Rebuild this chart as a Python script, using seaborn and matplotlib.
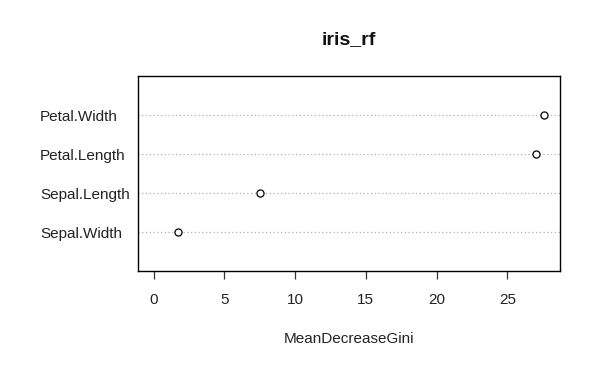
import matplotlib
matplotlib.use("Agg")
import matplotlib.pyplot as plt
import seaborn as sns
import pandas as pd

# variable importance from the random forest
variables = ["Sepal.Width", "Sepal.Length", "Petal.Length", "Petal.Width"]
mean_decrease_gini = [1.72, 7.50, 27.00, 27.62]
x_ticks = [0, 5, 10, 15, 20, 25]

df = pd.DataFrame({"variable": variables, "gini": mean_decrease_gini})
df["row"] = range(1, len(df) + 1)

sns.set_style("white")
plt.rcParams["font.family"] = ["Liberation Sans", "DejaVu Sans"]

fig = plt.figure(figsize=(6, 3.67), dpi=100)
ax = fig.add_axes([0.23, 0.2616, 0.7033, 0.5313])

# dotted guide lines, like R's dotchart
for r in df["row"]:
    ax.axhline(r, color="#b0b0b0", linestyle=(0, (1, 2)), linewidth=0.9, zorder=1)

sns.scatterplot(data=df, x="gini", y="row", ax=ax, marker="o", s=26,
                facecolor="white", edgecolor="black", linewidth=0.9, zorder=3,
                legend=False)

xmax = max(mean_decrease_gini)
pad = 0.04 * xmax
ax.set_xlim(-pad, xmax + pad)
ax.set_ylim(0, len(df) + 1)

ax.set_xticks(x_ticks)
ax.set_xticklabels([str(t) for t in x_ticks], fontsize=11, color="#222222")
ax.tick_params(axis="x", direction="out", length=6, width=0.9, pad=9.5,
               color="#333333", bottom=True)
ax.set_yticks([])

# row labels, left aligned in the margin
for r, name in zip(df["row"], df["variable"]):
    ax.text(-0.232, r - 0.04, name, transform=ax.get_yaxis_transform(),
            ha="left", va="center", fontsize=11, color="#222222")

for sp in ax.spines.values():
    sp.set_visible(True)
    sp.set_color("black")
    sp.set_linewidth(1.0)

ax.set_xlabel("MeanDecreaseGini", fontsize=11, color="#222222")
ax.set_ylabel("")
ax.xaxis.set_label_coords(0.5, -0.349)
ax.xaxis.label.set_va("center")

fig.text(0.5817, 1 - 40 / 367, "iris_rf", ha="center", va="center",
         fontsize=14, fontweight="bold", color="#111111")

fig.savefig("out.png", dpi=100, facecolor="white")
